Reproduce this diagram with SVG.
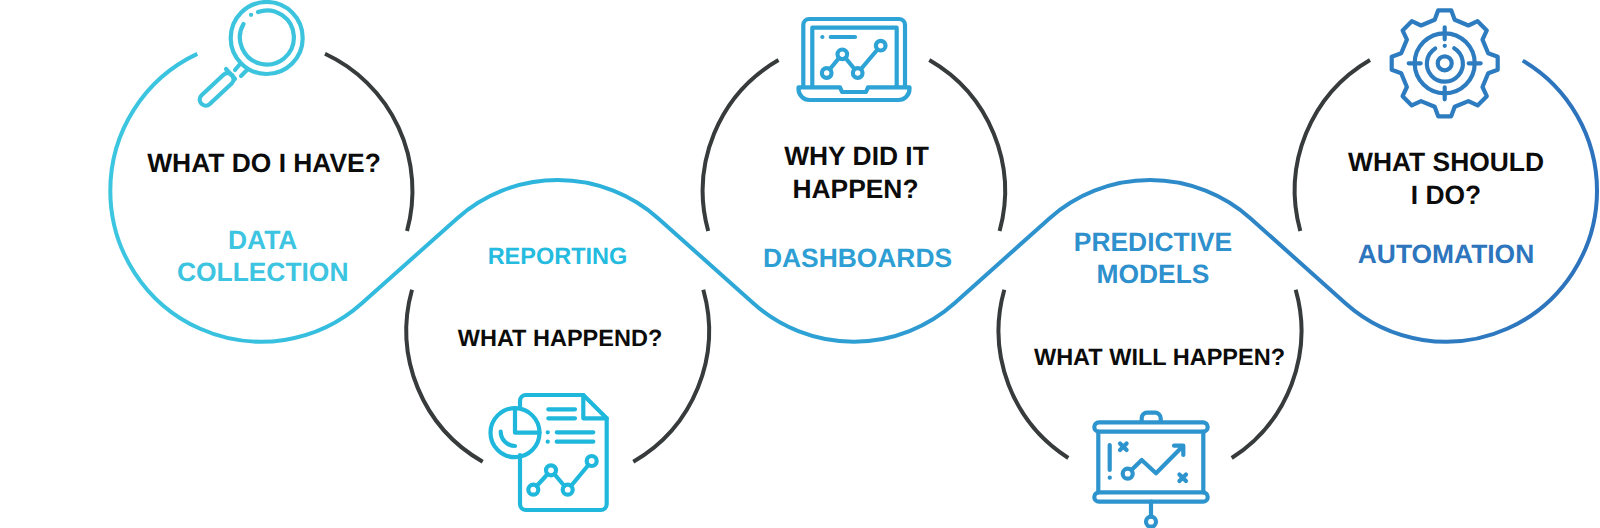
<svg xmlns="http://www.w3.org/2000/svg" width="1600" height="528" viewBox="0 0 1600 528">
<defs>
<linearGradient id="wave" gradientUnits="userSpaceOnUse" x1="109" y1="0" x2="1600" y2="0">
<stop offset="0" stop-color="#3CC6E0"/><stop offset="0.3" stop-color="#2DB4DC"/><stop offset="0.6" stop-color="#2E94CE"/><stop offset="1" stop-color="#2D72BC"/>
</linearGradient>
</defs>
<style>
.arc{fill:none;stroke:#373b3c;stroke-width:4}
.wave{fill:none;stroke:url(#wave);stroke-width:4}
text{font-family:"Liberation Sans",Arial,sans-serif;font-weight:700;text-anchor:middle;text-rendering:geometricPrecision}
.q{fill:#0c0c0c}
.big{font-size:26.4px}
.small{font-size:23.5px}
.ic{fill:none;stroke-width:4.2;stroke-linecap:round;stroke-linejoin:round}
.i1{stroke:#3CC4DE}.i2{stroke:#1FB8DC}.i3{stroke:#2EA3D5}.i4{stroke:#2E94CE}.i5{stroke:#2E7CC0}
</style>
<rect width="1600" height="528" fill="#fff"/>
<g id="connectors">
<path class="wave" d="M197.300 53.900A151 151 0 0 0 110.300 190.700A151 151 0 0 0 361.900 303.300L457.100 218.400A151 151 0 0 1 658.300 218.400L753.300 303.300A151 151 0 0 0 954.500 303.300L1049.400 218.400A151 151 0 0 1 1250.600 218.400L1345.400 303.300A151 151 0 0 0 1597 190.700A151 151 0 0 0 1522.700 60.600"/>
<path class="arc" d="M325 53.800A151 151 0 0 1 407 231"/>
<path class="arc" d="M412 289.700A151 151 0 0 0 482.700 461.700"/>
<path class="arc" d="M633.300 461.700A151 151 0 0 0 703.300 289.700"/>
<path class="arc" d="M778.500 60A151 151 0 0 0 708.200 231"/>
<path class="arc" d="M929.300 60A151 151 0 0 1 999.600 231"/>
<path class="arc" d="M1004.300 289.700A151 151 0 0 0 1068.300 458"/>
<path class="arc" d="M1231.700 458A151 151 0 0 0 1295.700 289.700"/>
<path class="arc" d="M1370 60A151 151 0 0 0 1300.300 231"/>
</g>
<g id="node-data-collection">
<g class="ic i1">
<circle cx="266.700" cy="38" r="36"/>
<path d="M258 12A27 27 0 1 1 243.500 24"/>
<path d="M251 14.800h.1"/>
<path d="M240 64L235 70M247 70L241 76"/>
<rect x="0" y="-6" width="42" height="12" rx="6" transform="translate(232 75) rotate(137)"/>
<path d="M226 69L235 79"/>
</g>
<text class="q big" x="264" y="171.700">WHAT DO I HAVE?</text>
<text class="big" fill="#3CC4E0" x="262.700" y="249.300">DATA</text>
<text class="big" fill="#3CC4E0" x="262.700" y="280.700">COLLECTION</text>
</g>
<g id="node-reporting">
<g class="ic i2">
<path d="M520 408V401A6 6 0 0 1 526 395H583.300L606.700 418.300V504A6 6 0 0 1 600.700 510H526A6 6 0 0 1 520 504V455"/>
<path d="M583.300 395V418.300H606.700"/>
<circle cx="515" cy="432.700" r="24.500"/>
<path d="M515 408.200V432.700H539.500"/>
<path d="M500.700 431.700A14.500 14.500 0 0 0 515 446"/>
<path d="M548.300 409.300H575M548.300 418.300H575M556.700 432.300H593.300M556.700 441.700H593.300"/>
<path d="M547.700 432.300h.1M547.700 441.700h.1"/>
<circle cx="533.300" cy="489.700" r="5"/><circle cx="551" cy="470.300" r="5"/><circle cx="567.700" cy="489.700" r="5"/><circle cx="591.700" cy="461" r="5"/>
<path d="M536.700 486L547.700 474M554.300 474L564.400 486M571 486L588.400 465"/>
</g>
<text class="small" fill="#24BBDF" x="557.500" y="264">REPORTING</text>
<text class="q small" x="560" y="346">WHAT HAPPEND?</text>
</g>
<g id="node-dashboards">
<g class="ic i3">
<path d="M803.300 87V25A6 6 0 0 1 809.300 19H899A6 6 0 0 1 905 25V87"/>
<path d="M812.300 87V27.700H896.700V87"/>
<path d="M798.500 87.300H840L842 92H866L868 87.300H909.500V89A11 11 0 0 1 898.500 100H809.500A11 11 0 0 1 798.500 89Z"/>
<path d="M822.300 37h.1M830.700 37H855"/>
<circle cx="826.700" cy="73" r="4.800"/><circle cx="842.300" cy="54.300" r="4.800"/><circle cx="857.700" cy="73" r="4.800"/><circle cx="880.700" cy="45.700" r="4.800"/>
<path d="M830 69L839 58M845.500 58L854.500 69M861 69L877.500 49.500"/>
</g>
<text class="q big" x="856.500" y="164.500">WHY DID IT</text>
<text class="q big" x="855.500" y="197.700">HAPPEN?</text>
<text class="big" fill="#2E9FD4" x="857.500" y="266.700">DASHBOARDS</text>
</g>
<g id="node-predictive-models">
<g class="ic i4">
<path d="M1141.700 421.700V418A5.500 5.500 0 0 1 1147 412.700H1155A5.500 5.500 0 0 1 1160.700 418V421.700"/>
<rect x="1094.300" y="422.300" width="113.400" height="9.400" rx="4.700"/>
<rect x="1094.300" y="492.300" width="113.400" height="9.400" rx="4.700"/>
<path d="M1098.300 431.700V492.300M1203.300 431.700V492.300"/>
<path d="M1151 501.700V516.700"/>
<circle cx="1151" cy="521.700" r="5"/>
<path d="M1109.700 445V470M1109.700 477.700h.1"/>
<path d="M1120 443.400L1126.600 450M1126.600 443.400L1120 450M1179.400 474.400L1186 481M1186 474.400L1179.400 481"/>
<circle cx="1127.700" cy="473.700" r="5"/>
<path d="M1131.500 470L1141.700 460L1156 473.300L1182.500 446.500M1174 445.700H1183.300V455"/>
</g>
<text class="big" fill="#2E90CC" x="1153" y="251">PREDICTIVE</text>
<text class="big" fill="#2E90CC" x="1153" y="283.200">MODELS</text>
<text class="q small" x="1159.500" y="364.500">WHAT WILL HAPPEN?</text>
</g>
<g id="node-automation">
<g class="ic i5">
<g transform="translate(1444.700 63.300)">
<path d="M-10 -43.500L-6.500 -53H6.500L10 -43.500L23.700 -37.800L32.900 -42.100L42.100 -32.900L37.800 -23.700L43.500 -10L53 -6.500V6.500L43.500 10L37.800 23.700L42.100 32.900L32.900 42.100L23.700 37.800L10 43.500L6.500 53H-6.500L-10 43.500L-23.700 37.800L-32.900 42.100L-42.100 32.900L-37.800 23.700L-43.500 10L-53 6.500V-6.500L-43.500 -10L-37.800 -23.700L-42.100 -32.900L-32.900 -42.100L-23.700 -37.800Z"/>
<circle r="30"/>
<path d="M0 -36V-24M0 24V36M-36 0H-24M24 0H36"/>
<path d="M-9.500 -14.800A18 18 0 1 0 9.500 -15"/>
<path d="M0 -17.500h.1"/>
<circle r="7"/>
</g>
</g>
<text class="q big" x="1446" y="171.400">WHAT SHOULD</text>
<text class="q big" x="1446" y="204">I DO?</text>
<text class="big" fill="#2D75BD" x="1446" y="263">AUTOMATION</text>
</g>
</svg>
